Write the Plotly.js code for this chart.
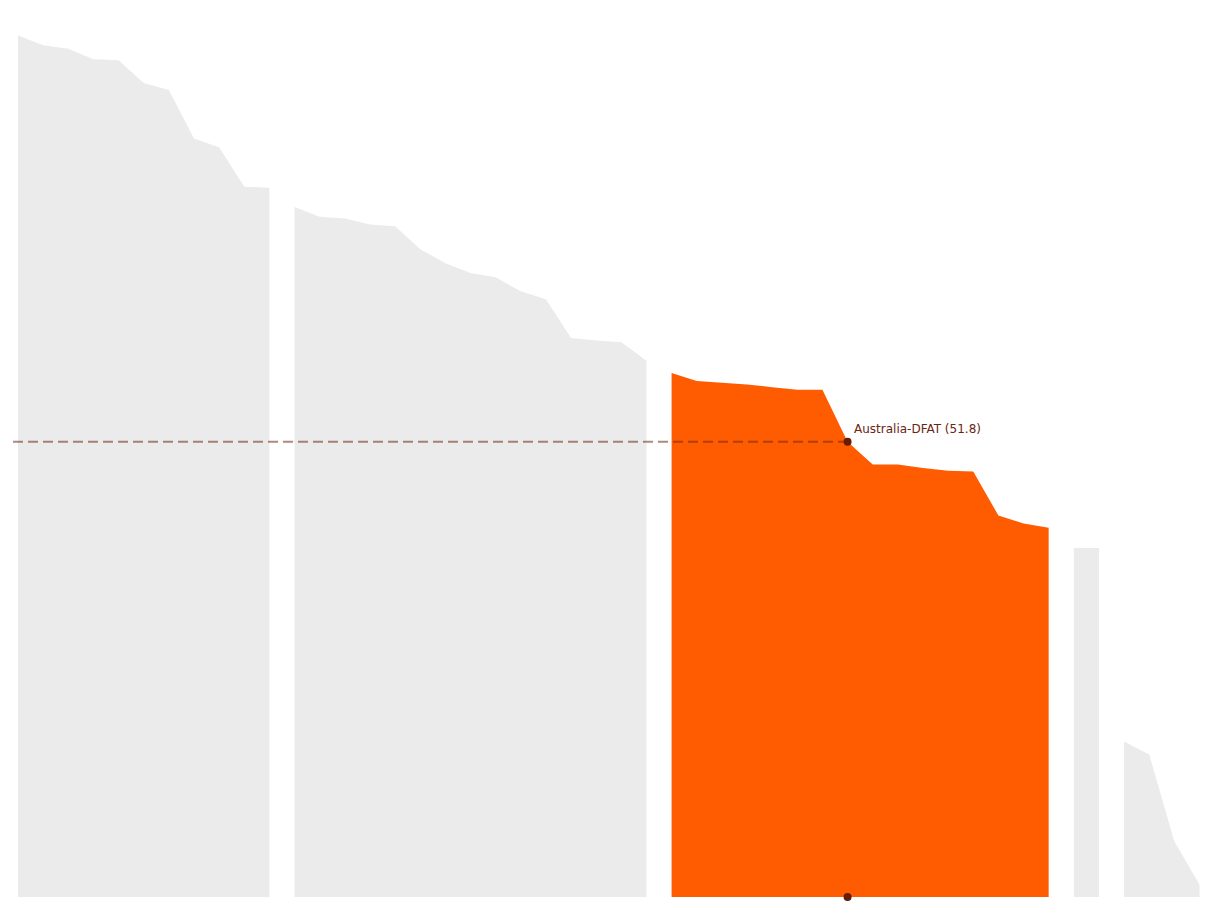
<!DOCTYPE html>
<html>
<head>
<meta charset="utf-8">
<script src="https://cdn.plot.ly/plotly-3.0.1.min.js"></script>
<style>html,body{margin:0;padding:0;background:#fff;}#chart{width:1208px;height:916px;}</style>
</head>
<body>
<div id="chart"></div>
<script>
// Scores, sorted descending, split into groups (consecutive positions)
const group1 = [98.0, 96.9, 96.5, 95.3, 95.2, 92.6, 91.8, 86.3, 85.3, 80.8, 80.7];
const group2 = [78.5, 77.4, 77.2, 76.5, 76.3, 73.7, 72.1, 71.0, 70.5, 68.9, 68.0, 63.6, 63.3, 63.1, 61.0];
const group3 = [59.6, 58.7, 58.5, 58.3, 58.0, 57.7, 57.7, 51.8, 49.2, 49.2, 48.8, 48.5, 48.4, 43.4, 42.5, 42.0];
const group4 = [39.7, 39.7];
const group5 = [17.7, 16.2, 6.3, 1.4];
const groups = [group1, group2, group3, group4, group5];
const highlightGroup = 2;
const highlightName = "Australia-DFAT";
const highlightValue = 51.8;
const highlightIndexInGroup = 7;

const traces = [];
let start = 0;
let highlightX = 0;
groups.forEach((vals, gi) => {
  const xs = vals.map((v, i) => start + i);
  if (gi === highlightGroup) highlightX = start + highlightIndexInGroup;
  traces.push({
    x: xs, y: vals, type: 'scatter', mode: 'lines', fill: 'tozeroy',
    fillcolor: gi === highlightGroup ? '#ff5b00' : '#ebebeb',
    line: {width: 0, color: 'rgba(0,0,0,0)'},
    hoverinfo: 'skip', showlegend: false
  });
  start += vals.length;
});
const xMax = start - 1;

// dashed reference line
traces.push({
  x: [-0.2, highlightX], y: [highlightValue, highlightValue], type: 'scatter', mode: 'lines',
  line: {color: 'rgba(110,40,20,0.55)', width: 2, dash: '10px,5px'},
  hoverinfo: 'skip', showlegend: false, cliponaxis: false
});
// markers
traces.push({
  x: [highlightX, highlightX], y: [highlightValue, 0], type: 'scatter', mode: 'markers',
  marker: {color: '#651b04', size: 8},
  hoverinfo: 'skip', showlegend: false, cliponaxis: false
});

const layout = {
  width: 1208, height: 916,
  margin: {l: 13, r: 6, t: 18, b: 19},
  paper_bgcolor: '#fff', plot_bgcolor: '#fff',
  xaxis: {range: [-0.2, xMax + 0.1], visible: false, showgrid: false, zeroline: false},
  yaxis: {range: [0, 100], visible: false, showgrid: false, zeroline: false},
  showlegend: false,
  annotations: [{
    x: highlightX, y: highlightValue, xref: 'x', yref: 'y',
    text: highlightName + ' (' + highlightValue.toFixed(1) + ')',
    showarrow: false, xanchor: 'left', yanchor: 'middle', xshift: 4, yshift: 13,
    font: {family: 'DejaVu Sans, sans-serif', size: 12, color: '#6b2410'}
  }]
};
Plotly.newPlot('chart', traces, layout, {staticPlot: true, displayModeBar: false});
</script>
</body>
</html>
